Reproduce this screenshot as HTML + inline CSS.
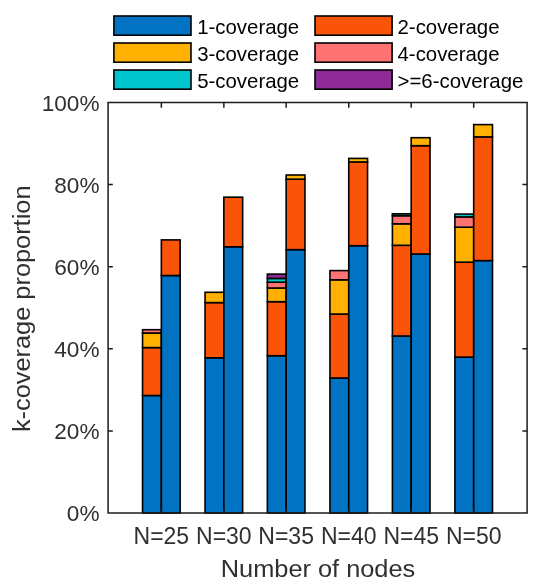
<!DOCTYPE html>
<html><head><meta charset="utf-8"><title>k-coverage proportion</title>
<style>
html,body{margin:0;padding:0;background:#fff;}
svg{display:block;}
text{font-family:"Liberation Sans",sans-serif;}
.tk{font-size:23px;fill:#303030;}
.ty{font-size:22.6px;fill:#303030;}
.lb{font-size:24.8px;fill:#303030;}
.lg{font-size:20.4px;fill:#000;}
</style></head><body>
<svg width="550" height="586" viewBox="0 0 550 586">
<rect x="0" y="0" width="550" height="586" fill="#fff"/>

<g stroke="#000" stroke-width="1.60" stroke-linejoin="miter">
<rect x="142.55" y="395.50" width="18.80" height="117.50" fill="#0273C3"/>
<rect x="142.55" y="347.60" width="18.80" height="47.90" fill="#FA5409"/>
<rect x="142.55" y="333.00" width="18.80" height="14.60" fill="#FFB000"/>
<rect x="142.55" y="329.70" width="18.80" height="3.30" fill="#FF7373"/>
<rect x="161.35" y="275.50" width="18.80" height="237.50" fill="#0273C3"/>
<rect x="161.35" y="239.90" width="18.80" height="35.60" fill="#FA5409"/>
<rect x="205.05" y="357.80" width="18.80" height="155.20" fill="#0273C3"/>
<rect x="205.05" y="302.60" width="18.80" height="55.20" fill="#FA5409"/>
<rect x="205.05" y="292.30" width="18.80" height="10.30" fill="#FFB000"/>
<rect x="223.85" y="246.80" width="18.80" height="266.20" fill="#0273C3"/>
<rect x="223.85" y="197.20" width="18.80" height="49.60" fill="#FA5409"/>
<rect x="267.35" y="355.70" width="18.80" height="157.30" fill="#0273C3"/>
<rect x="267.35" y="301.70" width="18.80" height="54.00" fill="#FA5409"/>
<rect x="267.35" y="288.00" width="18.80" height="13.70" fill="#FFB000"/>
<rect x="267.35" y="282.20" width="18.80" height="5.80" fill="#FF7373"/>
<rect x="267.35" y="278.40" width="18.80" height="3.80" fill="#00C5CD"/>
<rect x="267.35" y="274.10" width="18.80" height="4.30" fill="#8E2A96"/>
<rect x="286.15" y="249.65" width="18.80" height="263.35" fill="#0273C3"/>
<rect x="286.15" y="179.20" width="18.80" height="70.45" fill="#FA5409"/>
<rect x="286.15" y="175.00" width="18.80" height="4.20" fill="#FFB000"/>
<rect x="329.95" y="378.00" width="18.80" height="135.00" fill="#0273C3"/>
<rect x="329.95" y="314.05" width="18.80" height="63.95" fill="#FA5409"/>
<rect x="329.95" y="279.80" width="18.80" height="34.25" fill="#FFB000"/>
<rect x="329.95" y="270.60" width="18.80" height="9.20" fill="#FF7373"/>
<rect x="348.75" y="245.70" width="18.80" height="267.30" fill="#0273C3"/>
<rect x="348.75" y="161.95" width="18.80" height="83.75" fill="#FA5409"/>
<rect x="348.75" y="158.40" width="18.80" height="3.55" fill="#FFB000"/>
<rect x="392.40" y="336.00" width="18.80" height="177.00" fill="#0273C3"/>
<rect x="392.40" y="245.30" width="18.80" height="90.70" fill="#FA5409"/>
<rect x="392.40" y="223.80" width="18.80" height="21.50" fill="#FFB000"/>
<rect x="392.40" y="215.70" width="18.80" height="8.10" fill="#FF7373"/>
<rect x="392.40" y="213.80" width="18.80" height="1.90" fill="#00C5CD"/>
<rect x="411.20" y="254.00" width="18.80" height="259.00" fill="#0273C3"/>
<rect x="411.20" y="145.70" width="18.80" height="108.30" fill="#FA5409"/>
<rect x="411.20" y="137.70" width="18.80" height="8.00" fill="#FFB000"/>
<rect x="454.90" y="357.10" width="18.80" height="155.90" fill="#0273C3"/>
<rect x="454.90" y="262.20" width="18.80" height="94.90" fill="#FA5409"/>
<rect x="454.90" y="227.20" width="18.80" height="35.00" fill="#FFB000"/>
<rect x="454.90" y="216.90" width="18.80" height="10.30" fill="#FF7373"/>
<rect x="454.90" y="214.10" width="18.80" height="2.80" fill="#00C5CD"/>
<rect x="473.70" y="260.60" width="18.80" height="252.40" fill="#0273C3"/>
<rect x="473.70" y="136.90" width="18.80" height="123.70" fill="#FA5409"/>
<rect x="473.70" y="124.60" width="18.80" height="12.30" fill="#FFB000"/>
</g>
<g stroke="#1c1c1c" stroke-width="1.5" fill="none">
<rect x="108.10" y="102.50" width="419.00" height="410.50"/>
<path d="M108.10 430.90h4.70M527.10 430.90h-4.70"/>
<path d="M108.10 348.80h4.70M527.10 348.80h-4.70"/>
<path d="M108.10 266.70h4.70M527.10 266.70h-4.70"/>
<path d="M108.10 184.60h4.70M527.10 184.60h-4.70"/>
<path d="M161.35 513.00v-5.30M161.35 102.50v5.30"/>
<path d="M223.85 513.00v-5.30M223.85 102.50v5.30"/>
<path d="M286.15 513.00v-5.30M286.15 102.50v5.30"/>
<path d="M348.75 513.00v-5.30M348.75 102.50v5.30"/>
<path d="M411.20 513.00v-5.30M411.20 102.50v5.30"/>
<path d="M473.70 513.00v-5.30M473.70 102.50v5.30"/>
</g>
<text class="ty" x="99.5" y="521.00" text-anchor="end">0%</text>
<text class="ty" x="99.5" y="438.90" text-anchor="end">20%</text>
<text class="ty" x="99.5" y="356.80" text-anchor="end">40%</text>
<text class="ty" x="99.5" y="274.70" text-anchor="end">60%</text>
<text class="ty" x="99.5" y="192.60" text-anchor="end">80%</text>
<text class="ty" x="99.5" y="110.50" text-anchor="end">100%</text>
<text class="tk" x="161.35" y="543.5" text-anchor="middle">N=25</text>
<text class="tk" x="223.85" y="543.5" text-anchor="middle">N=30</text>
<text class="tk" x="286.15" y="543.5" text-anchor="middle">N=35</text>
<text class="tk" x="348.75" y="543.5" text-anchor="middle">N=40</text>
<text class="tk" x="411.20" y="543.5" text-anchor="middle">N=45</text>
<text class="tk" x="473.70" y="543.5" text-anchor="middle">N=50</text>
<text class="lb" x="318" y="576.8" text-anchor="middle" textLength="194.5" lengthAdjust="spacingAndGlyphs">Number of nodes</text>
<text class="lb" transform="translate(30 308.8) rotate(-90)" text-anchor="middle" textLength="246.6" lengthAdjust="spacingAndGlyphs">k-coverage proportion</text>
<rect x="113.90" y="16.00" width="77.1" height="19.2" fill="#0273C3" stroke="#000" stroke-width="1.6"/>
<text class="lg" x="197.20" y="33.70">1-coverage</text>
<rect x="315.00" y="16.00" width="77.1" height="19.2" fill="#FA5409" stroke="#000" stroke-width="1.6"/>
<text class="lg" x="397.50" y="33.70">2-coverage</text>
<rect x="113.90" y="43.00" width="77.1" height="19.2" fill="#FFB000" stroke="#000" stroke-width="1.6"/>
<text class="lg" x="197.20" y="60.70">3-coverage</text>
<rect x="315.00" y="43.00" width="77.1" height="19.2" fill="#FF7373" stroke="#000" stroke-width="1.6"/>
<text class="lg" x="397.50" y="60.70">4-coverage</text>
<rect x="113.90" y="70.00" width="77.1" height="19.2" fill="#00C5CD" stroke="#000" stroke-width="1.6"/>
<text class="lg" x="197.20" y="87.70">5-coverage</text>
<rect x="315.00" y="70.00" width="77.1" height="19.2" fill="#8E2A96" stroke="#000" stroke-width="1.6"/>
<text class="lg" x="397.50" y="87.70">&gt;=6-coverage</text>
</svg></body></html>
